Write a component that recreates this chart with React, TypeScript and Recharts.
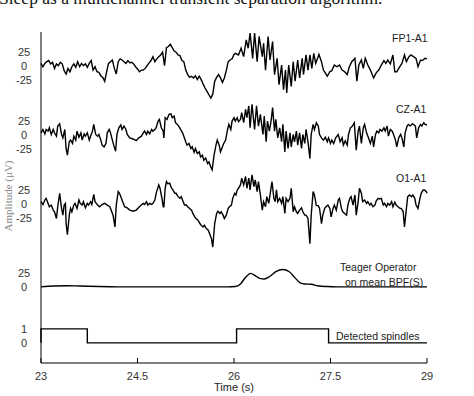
import { ComposedChart, Line, XAxis, YAxis } from "recharts";

// [time (s), amplitude (µV)]
const fp1: [number, number][] = [
  [23.00, 5], [23.03, -1], [23.06, 5], [23.09, 8], [23.12, 10], [23.15, 4], [23.18, 7], [23.21, -4], [23.24, 4], [23.27, 1],
  [23.30, 7], [23.33, 4], [23.36, -8], [23.39, -14], [23.42, -4], [23.45, -10], [23.48, -1], [23.51, 4], [23.54, -2], [23.57, 8],
  [23.60, -1], [23.63, 5], [23.66, 1], [23.69, 4], [23.72, -2], [23.75, 5], [23.78, 10], [23.81, -7], [23.84, -1], [23.87, -10],
  [23.90, -11], [23.93, -17], [23.96, -20], [23.99, -27], [24.02, -10], [24.05, 5], [24.08, 8], [24.11, 11], [24.14, -4], [24.17, -14],
  [24.20, 8], [24.23, 13], [24.26, 11], [24.29, 8], [24.32, 5], [24.35, 10], [24.38, 6], [24.41, 7], [24.44, 4], [24.47, -1],
  [24.50, -5], [24.53, -10], [24.56, -7], [24.59, -7], [24.62, -4], [24.65, 1], [24.68, 6], [24.71, 10], [24.74, 17], [24.77, 8],
  [24.80, 13], [24.83, 17], [24.86, 20], [24.89, 25], [24.92, 1], [24.95, 33], [24.98, 35], [25.01, 39], [25.04, 33], [25.07, 27],
  [25.10, 25], [25.13, 20], [25.16, 19], [25.19, 10], [25.22, 8], [25.25, -7], [25.28, -15], [25.31, -20], [25.34, -18], [25.37, -21],
  [25.40, -17], [25.43, -24], [25.46, -18], [25.49, -24], [25.52, -32], [25.55, -39], [25.58, -45], [25.61, -51], [25.64, -57], [25.67, -50],
  [25.70, -27], [25.73, -20], [25.76, -15], [25.79, -21], [25.82, -29], [25.85, -21], [25.88, -8], [25.91, 8], [25.94, 11], [25.97, 13],
  [26.00, 21], [26.02, 23], [26.07, 20], [26.11, 32], [26.15, 17], [26.19, 47], [26.22, 32], [26.25, 59], [26.29, 14], [26.32, 59],
  [26.36, 8], [26.39, 53], [26.44, 17], [26.46, 41], [26.49, -7], [26.53, 53], [26.56, 11], [26.60, 44], [26.63, -15], [26.67, 14],
  [26.70, -33], [26.74, 2], [26.77, -42], [26.80, -7], [26.82, -48], [26.85, 2], [26.89, -36], [26.92, 8], [26.95, -27], [26.99, 11],
  [27.02, -21], [27.06, 14], [27.08, -15], [27.12, 20], [27.15, -7], [27.18, 20], [27.21, -4], [27.24, 23], [27.27, 5], [27.32, 21],
  [27.36, 8], [27.39, -7], [27.45, -18], [27.49, -10], [27.52, -8], [27.56, 2], [27.60, -1], [27.64, 2], [27.68, -7], [27.72, -10],
  [27.76, -15], [27.79, -2], [27.83, 8], [27.88, 14], [27.91, -27], [27.94, 2], [27.98, 11], [28.01, -4], [28.04, 14], [28.08, 2],
  [28.12, -7], [28.17, -21], [28.21, -12], [28.25, -7], [28.29, 2], [28.33, 10], [28.36, 5], [28.39, 11], [28.43, 4], [28.47, 20],
  [28.50, -10], [28.53, -10], [28.57, -2], [28.61, 5], [28.65, 20], [28.68, 8], [28.72, 17], [28.75, 20], [28.79, 17], [28.83, 14],
  [28.86, -1], [28.90, 11], [28.93, 10], [28.97, 14], [29.00, 13],
];

const cz: [number, number][] = [
  [23.00, 4], [23.03, 10], [23.06, 2], [23.08, 10], [23.11, 7], [23.13, 13], [23.16, 1], [23.19, 10], [23.21, 4], [23.24, -2],
  [23.26, 16], [23.29, 20], [23.32, 1], [23.34, -5], [23.37, 10], [23.39, -24], [23.41, -36], [23.44, -12], [23.46, -9], [23.49, -15],
  [23.51, -2], [23.54, -9], [23.56, 7], [23.59, -4], [23.62, 4], [23.64, -9], [23.67, 2], [23.69, -2], [23.72, 4], [23.75, -9],
  [23.77, -2], [23.80, 7], [23.82, 19], [23.85, 1], [23.88, -2], [23.90, 1], [23.93, -9], [23.95, -18], [23.98, -21], [24.01, -15],
  [24.03, 4], [24.06, 10], [24.08, 4], [24.10, -5], [24.13, -18], [24.16, -29], [24.18, 1], [24.21, 13], [24.24, 18], [24.26, 10],
  [24.29, 16], [24.32, 10], [24.34, 1], [24.38, -5], [24.43, -7], [24.48, -10], [24.52, -5], [24.56, -2], [24.59, 4], [24.61, 7],
  [24.64, 1], [24.66, 7], [24.69, 2], [24.72, 10], [24.74, 7], [24.77, 10], [24.79, 13], [24.82, 25], [24.84, 28], [24.87, 13],
  [24.90, 7], [24.91, -5], [24.93, 31], [24.96, 28], [24.99, 37], [25.02, 38], [25.04, 31], [25.07, 34], [25.09, 22], [25.12, 19],
  [25.15, 14], [25.17, 10], [25.20, 4], [25.22, -2], [25.25, -12], [25.27, -18], [25.30, -15], [25.33, -24], [25.35, -21], [25.38, -31],
  [25.40, -24], [25.43, -33], [25.46, -30], [25.48, -39], [25.51, -36], [25.53, -45], [25.56, -41], [25.59, -51], [25.61, -48], [25.64, -57],
  [25.66, -62], [25.69, -36], [25.72, -18], [25.74, -9], [25.77, -18], [25.79, -30], [25.82, -21], [25.84, -15], [25.87, -9], [25.90, 10],
  [25.92, 19], [25.95, 10], [25.97, 25], [26.00, 31], [26.02, 25], [26.05, 31], [26.07, 24], [26.10, 28], [26.12, 40], [26.15, 22],
  [26.18, 46], [26.20, 31], [26.23, 52], [26.25, 13], [26.28, 55], [26.32, 10], [26.35, 52], [26.38, 16], [26.41, 37], [26.45, 1],
  [26.47, 34], [26.50, -12], [26.52, 25], [26.55, 7], [26.58, 28], [26.60, 49], [26.63, 7], [26.65, 28], [26.68, -5], [26.71, 13],
  [26.74, -12], [26.76, 19], [26.79, -30], [26.81, 7], [26.84, -24], [26.87, 4], [26.89, -21], [26.92, 1], [26.94, -12], [26.97, 7],
  [26.99, -18], [27.02, 4], [27.05, -24], [27.07, 1], [27.10, -15], [27.12, 10], [27.15, -12], [27.18, -42], [27.20, 1], [27.23, 19],
  [27.25, 10], [27.28, 22], [27.31, 16], [27.33, 1], [27.36, -5], [27.39, -9], [27.42, -4], [27.45, -12], [27.47, -5], [27.50, -15],
  [27.52, -9], [27.55, -15], [27.58, -5], [27.62, 1], [27.65, -12], [27.68, -5], [27.70, -18], [27.73, -10], [27.76, -18], [27.78, 1],
  [27.81, 13], [27.84, 16], [27.87, 22], [27.90, -27], [27.93, 7], [27.95, 16], [27.98, -15], [28.01, 13], [28.03, 19], [28.06, 4],
  [28.09, -5], [28.12, -15], [28.15, -2], [28.17, -21], [28.20, 1], [28.22, 7], [28.25, 4], [28.27, 10], [28.30, 7], [28.33, 13],
  [28.35, 7], [28.38, 16], [28.40, -2], [28.43, 10], [28.46, 7], [28.48, 1], [28.51, -9], [28.53, -21], [28.56, -5], [28.59, 1],
  [28.61, -5], [28.64, -21], [28.66, 4], [28.69, 16], [28.71, 19], [28.74, 16], [28.77, 20], [28.79, 19], [28.82, 16], [28.84, -5],
  [28.87, 13], [28.90, 19], [28.92, 16], [28.95, 22], [28.97, 19], [29.00, 18],
];

const o1: [number, number][] = [
  [23.00, 4], [23.03, -1], [23.06, 7], [23.08, 10], [23.11, 1], [23.13, -5], [23.16, -2], [23.19, -11], [23.21, -14], [23.24, -26],
  [23.26, -5], [23.29, 19], [23.32, -8], [23.34, -20], [23.36, -2], [23.38, 1], [23.39, -35], [23.41, -55], [23.44, -20], [23.46, -8],
  [23.48, -14], [23.51, -2], [23.53, 1], [23.56, -8], [23.59, 7], [23.61, 1], [23.64, -2], [23.66, 4], [23.69, -7], [23.72, 1],
  [23.74, -2], [23.77, 4], [23.79, -1], [23.82, 17], [23.84, 4], [23.88, -2], [23.91, -5], [23.95, -1], [23.99, 1], [24.03, -2],
  [24.07, -5], [24.09, -11], [24.12, -20], [24.15, -41], [24.17, -2], [24.20, 22], [24.22, 19], [24.25, 10], [24.27, 4], [24.30, -5],
  [24.34, -7], [24.38, -11], [24.43, -13], [24.48, -11], [24.53, -5], [24.56, -2], [24.59, 1], [24.61, -1], [24.64, 4], [24.66, -2],
  [24.69, 1], [24.72, -1], [24.74, 1], [24.77, 7], [24.79, 19], [24.83, 34], [24.85, 28], [24.88, 10], [24.90, -5], [24.91, -5],
  [24.93, 28], [24.95, 40], [24.97, 36], [25.00, 37], [25.03, 28], [25.05, 25], [25.08, 19], [25.10, 19], [25.13, 13], [25.16, 10],
  [25.18, 13], [25.21, 4], [25.23, -2], [25.26, -2], [25.28, -5], [25.31, -8], [25.34, -11], [25.36, -17], [25.39, -23], [25.41, -26],
  [25.44, -29], [25.47, -35], [25.49, -38], [25.52, -41], [25.54, -38], [25.57, -44], [25.60, -47], [25.62, -53], [25.65, -62], [25.67, -77],
  [25.70, -35], [25.73, -17], [25.75, -13], [25.78, -17], [25.80, -14], [25.83, -20], [25.85, -26], [25.88, -20], [25.91, -8], [25.93, -5],
  [25.96, -2], [25.98, 10], [26.01, 19], [26.03, 16], [26.05, 25], [26.07, 28], [26.10, 34], [26.12, 46], [26.15, 34], [26.18, 49],
  [26.20, 28], [26.23, 46], [26.25, 25], [26.28, 52], [26.31, 31], [26.33, 43], [26.36, 22], [26.38, 40], [26.41, 16], [26.44, -11],
  [26.46, 4], [26.49, -5], [26.51, 13], [26.54, 1], [26.56, 16], [26.59, 40], [26.62, 10], [26.64, 4], [26.66, 25], [26.68, 4],
  [26.71, 10], [26.74, 1], [26.76, 13], [26.79, -17], [26.81, 10], [26.84, 4], [26.87, 10], [26.89, 28], [26.92, -14], [26.94, -5],
  [26.97, -14], [26.99, -17], [27.02, -11], [27.05, -7], [27.07, -14], [27.10, -20], [27.12, -20], [27.15, -26], [27.18, -71], [27.20, -20],
  [27.23, 22], [27.25, 16], [27.28, -3], [27.31, -3], [27.33, -8], [27.36, -35], [27.38, -20], [27.41, -8], [27.43, -5], [27.46, -2],
  [27.49, -8], [27.51, -23], [27.54, -8], [27.56, -2], [27.59, -11], [27.62, 7], [27.64, 10], [27.67, -8], [27.69, -14], [27.72, -17],
  [27.75, -20], [27.77, -2], [27.80, 10], [27.82, 13], [27.85, -2], [27.88, 16], [27.90, -20], [27.93, 4], [27.95, 28], [27.98, 19],
  [28.00, 4], [28.03, 7], [28.06, 1], [28.08, 4], [28.11, -2], [28.13, 1], [28.16, -5], [28.19, -2], [28.21, 5], [28.24, 10],
  [28.26, 9], [28.29, 10], [28.32, -2], [28.34, 1], [28.37, -5], [28.39, 1], [28.42, -2], [28.45, 4], [28.47, -5], [28.50, 3],
  [28.52, -2], [28.55, -5], [28.58, -8], [28.60, -8], [28.63, -14], [28.65, -41], [28.68, -8], [28.70, 13], [28.73, 16], [28.76, 13],
  [28.78, 16], [28.81, 10], [28.83, -2], [28.86, -8], [28.89, 10], [28.91, 19], [28.94, 25], [28.96, 25], [28.99, 22], [29.00, 19],
];

const teager: [number, number][] = [
  [23.0, 0], [23.2, 1.5], [23.4, 2], [23.6, 1.5], [23.9, 0.5], [24.2, 0], [25.9, 0], [26.02, 0.5], [26.1, 5], [26.18, 17],
  [26.26, 24], [26.33, 20], [26.4, 15], [26.47, 14], [26.55, 18], [26.65, 27], [26.76, 31], [26.86, 27], [26.95, 16], [27.03, 7],
  [27.1, 5], [27.2, 4.5], [27.3, 2], [27.45, 0.5], [27.6, 0], [29.0, 0],
];

const spindles: [number, number][] = [
  [23.0, 0], [23.0, 1], [23.72, 0], [26.04, 1], [27.47, 0], [29.0, 0],
];

const xTicks = [23, 24.5, 26, 27.5, 29];

const channels = [
  { name: "fp1", points: fp1, offset: 530, scale: 1, ticks: [-25, 0, 25], curve: "linear" },
  { name: "cz", points: cz, offset: 407, scale: 1, ticks: [-25, 0, 25], curve: "linear" },
  { name: "o1", points: o1, offset: 284, scale: 1, ticks: [-25, 0, 25], curve: "linear" },
  { name: "teager", points: teager, offset: 136, scale: 1, ticks: [0, 25], curve: "monotone" },
  { name: "spindles", points: spindles, offset: 36, scale: 25, ticks: [0, 1], curve: "stepAfter" },
];

const yTicks = channels
  .flatMap((c) => c.ticks.map((v) => ({ pos: c.offset + v * c.scale, label: String(v) })))
  .sort((a, b) => a.pos - b.pos);

const sans = "'Liberation Sans', Arial, Helvetica, sans-serif";
const serif = "'Liberation Serif', 'Times New Roman', serif";

const XTick = (props: any) => {
  const { x, y, payload } = props;
  return (
    <g>
      <line x1={x} y1={y} x2={x} y2={y - 5} stroke="#000" />
      <text x={x} y={y + 17} textAnchor="middle" fontSize={11} fill="#333" fontFamily={sans}>
        {payload.value}
      </text>
    </g>
  );
};

const YTick = (props: any) => {
  const { x, y, payload } = props;
  const t = yTicks.find((k) => k.pos === payload.value);
  return (
    <text x={x - 17} y={y + 4} textAnchor="middle" fontSize={11} fill="#333" fontFamily={sans}>
      {t ? t.label : ""}
    </text>
  );
};

const label = (left: number, top: number, fontSize = 10.5): React.CSSProperties => ({
  position: "absolute",
  left,
  top,
  fontSize,
  lineHeight: "12px",
  fontFamily: sans,
  color: "#222",
  whiteSpace: "nowrap",
});

export default function App() {
  return (
    <div style={{ position: "absolute", left: 0, top: 0, width: 474, height: 396, overflow: "hidden", background: "#fff" }}>
      <div
        style={{
          position: "absolute",
          left: -1,
          top: -10,
          fontSize: 17.5,
          lineHeight: "17px",
          fontFamily: serif,
          color: "#111",
          whiteSpace: "nowrap",
        }}
      >
        Sleep as a multichannel transient separation algorithm.
      </div>
      <ComposedChart width={474} height={396} margin={{ top: 32, right: 47, bottom: 3, left: 0 }}>
        <XAxis
          dataKey="t"
          type="number"
          domain={[23, 29]}
          ticks={xTicks}
          tickSize={0}
          tickMargin={0}
          tick={<XTick />}
          stroke="#000"
          height={30}
          allowDuplicatedCategory={false}
        />
        <YAxis
          type="number"
          domain={[0, 591]}
          ticks={yTicks.map((t) => t.pos)}
          tickSize={0}
          tickMargin={0}
          tick={<YTick />}
          stroke="#000"
          width={41}
          interval={0}
        />
        {channels.map((c) => (
          <Line
            key={c.name}
            data={c.points.map(([t, v]) => ({ t, y: c.offset + v * c.scale }))}
            dataKey="y"
            type={c.curve as any}
            stroke="#000"
            strokeWidth={1.4}
            dot={false}
            isAnimationActive={false}
          />
        ))}
      </ComposedChart>
      <div style={label(392, 32)}>FP1-A1</div>
      <div style={label(396, 103)}>CZ-A1</div>
      <div style={label(396, 172)}>O1-A1</div>
      <div style={label(340, 261)}>Teager Operator</div>
      <div style={label(345, 276)}>on mean BPF(S)</div>
      <div style={label(336, 330)}>Detected spindles</div>
      <div style={{ ...label(234, 381, 11), transform: "translateX(-50%)" }}>Time (s)</div>
      <div
        style={{
          position: "absolute",
          left: 8,
          top: 196,
          transform: "translate(-50%, -50%) rotate(-90deg)",
          fontSize: 11,
          fontFamily: serif,
          color: "#888",
          whiteSpace: "nowrap",
        }}
      >
        Amplitude (μV)
      </div>
    </div>
  );
}
